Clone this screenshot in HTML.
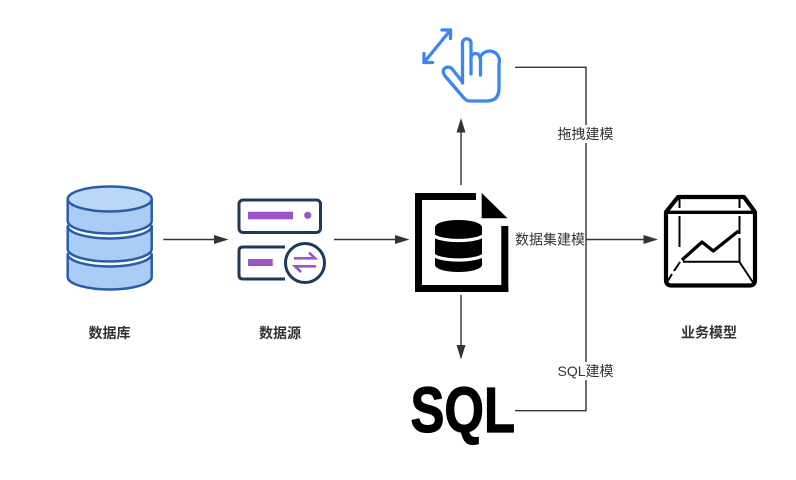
<!DOCTYPE html>
<html>
<head>
<meta charset="utf-8">
<style>
html,body{margin:0;padding:0;background:#fff;}
svg{display:block;}
text{font-family:"Liberation Sans","Noto Sans CJK SC",sans-serif;}
</style>
</head>
<body>
<svg width="796" height="480" viewBox="0 0 796 480" xmlns="http://www.w3.org/2000/svg">
  <rect width="796" height="480" fill="#fff"/>

  <!-- Database (blue) -->
  <g stroke="#2b5ca8" stroke-width="2.5" stroke-linejoin="round">
    <path d="M67.7 254 L67.7 277 A42 12.5 0 0 0 151.7 277 L151.7 254 A42 12.5 0 0 1 67.7 254 Z" fill="#a9cdf6"/>
    <path d="M67.7 226 L67.7 249 A42 12.5 0 0 0 151.7 249 L151.7 226 A42 12.5 0 0 1 67.7 226 Z" fill="#a9cdf6"/>
    <path d="M67.7 199 L67.7 221 A42 12.5 0 0 0 151.7 221 L151.7 199 Z" fill="#a9cdf6"/>
    <ellipse cx="109.7" cy="199" rx="42" ry="12.5" fill="#bcd8f8"/>
  </g>

  <!-- Data source icon -->
  <g fill="none" stroke="#1d3a5c" stroke-width="3">
    <rect x="239" y="200" width="81.5" height="32.5" rx="4"/>
    <path d="M285 247 L243 247 Q239 247 239 251 L239 275 Q239 279 243 279 L285 279"/>
    <circle cx="305" cy="263" r="19.5"/>
  </g>
  <g fill="#9b55c9">
    <rect x="248" y="211.7" width="45" height="7.6"/>
    <circle cx="307.7" cy="215.3" r="3.6"/>
    <rect x="248" y="259" width="24.7" height="7"/>
  </g>
  <g fill="none" stroke="#9b55c9" stroke-width="2.6" stroke-linecap="butt">
    <path d="M294 258.3 L315 258.3 L309 252.5"/>
    <path d="M316 266.3 L295 266.3 L301 272"/>
  </g>

  <!-- Document with DB -->
  <g fill="#000">
    <rect x="415" y="193" width="7" height="99"/>
    <rect x="415" y="285" width="93.3" height="7"/>
    <rect x="501.3" y="226" width="7" height="66"/>
    <rect x="415" y="193" width="61" height="7"/>
    <polygon points="481.7,193 507.5,218.3 481.7,218.3"/>
    <path d="M435 227 A23.5 7 0 0 1 482 227 L482 265 A23.5 7 0 0 1 435 265 Z"/>
  </g>
  <g fill="none" stroke="#fff" stroke-width="3.2">
    <path d="M433 234 A25.5 6.5 0 0 0 484 234"/>
    <path d="M433 253.5 A25.5 6.5 0 0 0 484 253.5"/>
  </g>

  <!-- Hand icon -->
  <g fill="none" stroke="#3b86f2" stroke-width="3.3" stroke-linecap="round" stroke-linejoin="round">
    <path d="M424 62.5 L450.5 30"/>
    <path d="M424 53.5 L424 62.5 L432.5 62.5"/>
    <path d="M442 30 L450.5 30 L450.5 38.5"/>
    <path d="M462.5 83 L462.5 43 A4.25 4.25 0 0 1 471 43 L471 58 A4.5 4.5 0 0 1 480 58 A9.5 9.5 0 0 1 499 64 L499 88 Q499 101 487 101 L470 101 Q466 101 463 97 L445 76 Q441 70 446 67.5 Q450 66 453 70 L462.5 82"/>
    <path d="M471 58 L471 74"/>
    <path d="M480.5 59 L480.5 75"/>
  </g>

  <!-- Business model icon -->
  <g fill="none" stroke="#000" stroke-linejoin="round">
    <path d="M666 212 L678 197 L744 197 L755 212 L755 280 Q755 285.5 749.5 285.5 L671.5 285.5 Q666 285.5 666 280 Z" stroke-width="4.2"/>
    <path d="M666 212.3 L755 212.3" stroke-width="3.4"/>
    <g stroke-width="2">
      <path d="M679.5 199 L679.5 208 M679.5 216 L679.5 247"/>
      <path d="M739.5 199 L739.5 208 M739.5 216 L739.5 234 M739.5 238 L739.5 262"/>
      <path d="M683 261.7 L739.5 261.7"/>
      <path d="M739.5 262 L754 284"/>
      <path d="M680 262 L674 271 M672 274 L666 284"/>
    </g>
    <path d="M682 260 L702 242 L713.3 251 L738.5 231" stroke-width="3.3"/>
  </g>

  <!-- SQL -->
  <text x="410.5" y="432" font-size="64" font-weight="bold" fill="#000" stroke="#000" stroke-width="1.2" textLength="104.5" lengthAdjust="spacingAndGlyphs">SQL</text>

  <!-- Connectors -->
  <g stroke="#333" stroke-width="1.4" fill="none">
    <path d="M163.3 239.5 L215 239.5"/>
    <path d="M334 239.5 L396 239.5"/>
    <path d="M461 185 L461 131"/>
    <path d="M461 295 L461 346"/>
    <path d="M515 67.3 L586 67.3 L586 410.7 L515 410.7"/>
    <path d="M586 239.5 L645 239.5"/>
  </g>
  <g fill="#333">
    <polygon points="228.5,239.5 214,235 214,244"/>
    <polygon points="409.5,239.5 395,235 395,244"/>
    <polygon points="658,239.5 643.5,235 643.5,244"/>
    <polygon points="461,118 456.5,132.5 465.5,132.5"/>
    <polygon points="461,359.5 456.5,345 465.5,345"/>
  </g>

  <!-- Edge labels -->
  <rect x="557" y="125" width="57" height="18" fill="#fff"/>
  <text x="585.5" y="139" font-size="14" fill="#333" text-anchor="middle">拖拽建模</text>
  <rect x="557" y="362" width="57" height="18" fill="#fff"/>
  <text x="585.5" y="376" font-size="14" fill="#333" text-anchor="middle">SQL建模</text>
  <text x="585" y="244.5" font-size="14" fill="#333" text-anchor="end">数据集建模</text>

  <!-- Node labels -->
  <text x="109.5" y="338" font-size="14" font-weight="bold" fill="#333" text-anchor="middle">数据库</text>
  <text x="280" y="338" font-size="14" font-weight="bold" fill="#333" text-anchor="middle">数据源</text>
  <text x="709" y="337.5" font-size="14" font-weight="bold" fill="#333" text-anchor="middle">业务模型</text>
</svg>
</body>
</html>
